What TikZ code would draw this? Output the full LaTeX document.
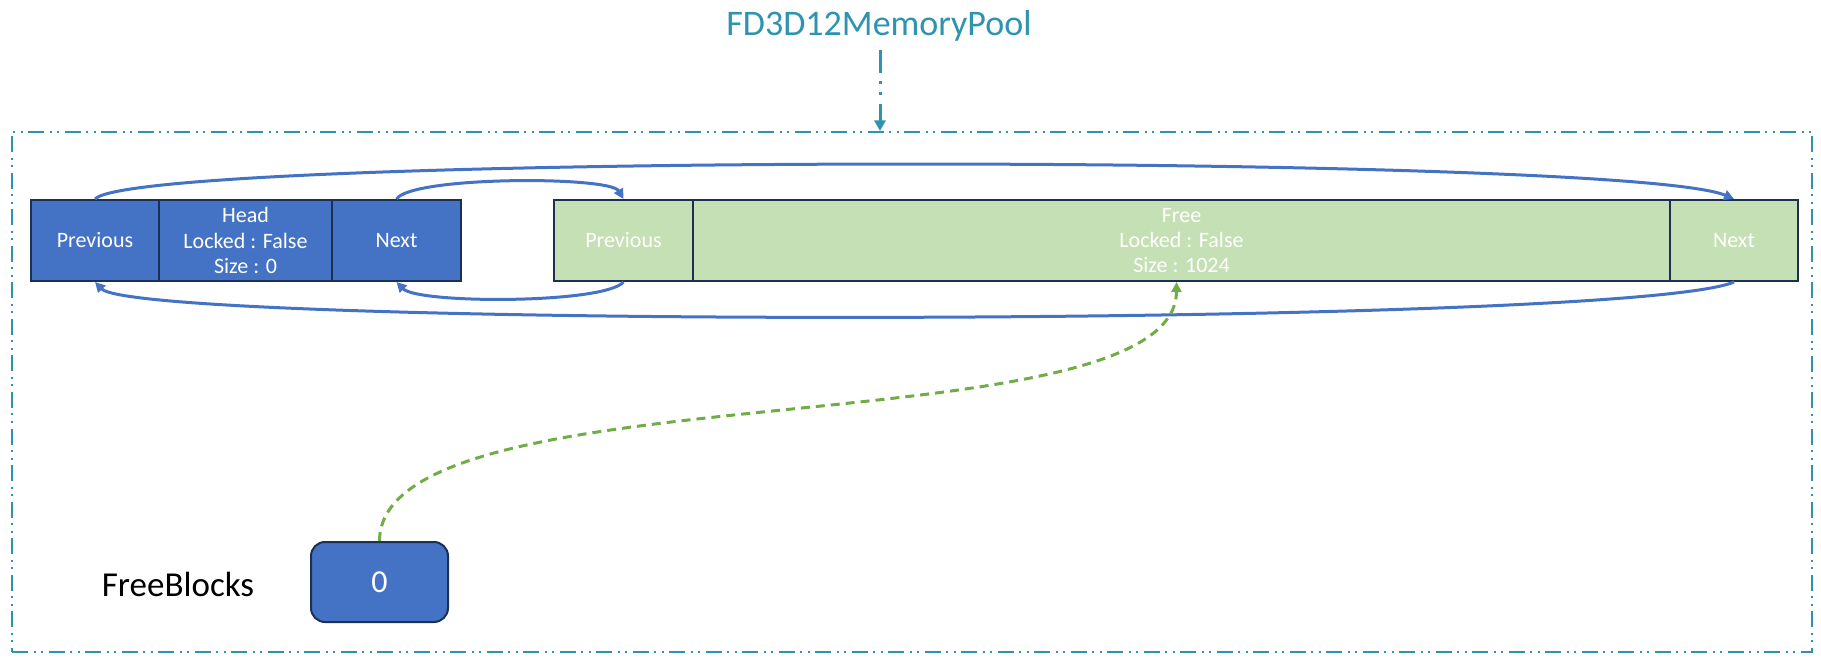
\documentclass[tikz,border=0pt]{standalone}
\usepackage{fontspec}
\setmainfont{Carlito}
\usetikzlibrary{arrows.meta}
\definecolor{cellblue}{HTML}{4472C4}
\definecolor{cellgreen}{HTML}{C5E0B4}
\definecolor{navy}{HTML}{1C2F55}
\definecolor{poolteal}{HTML}{2E93AF}
\definecolor{freegreen}{HTML}{70AD47}
\begin{document}
\begin{tikzpicture}[x=0.5pt, y=-0.5pt,
  cell/.style={draw=navy, line width=1pt, minimum height=40.5pt, inner sep=0pt, text=white, align=center, font=\fontsize{11}{12.7}\selectfont},
  link/.style={draw=cellblue, line width=1.5pt, -{Triangle[length=5pt,width=5pt]}},
  freelink/.style={draw=freegreen, line width=1.5pt, dash pattern=on 4.5pt off 3pt, -{Triangle[length=5pt,width=5pt]}},
  poolarrow/.style={draw=poolteal, line width=1.5pt, dash pattern=on 11.5pt off 4pt on 1.5pt off 4pt on 1.5pt off 4.5pt, -{Triangle[length=5.3pt,width=5.5pt]}}]
\useasboundingbox (0,0) rectangle (1821,663);
\node[anchor=base, text=poolteal, font=\fontsize{18}{20}\selectfont] (pool) at (879,36) {FD3D12MemoryPool};
\coordinate (ptop) at (880,50);
\node[draw=poolteal, line width=1pt, inner sep=0pt, minimum width=900pt, minimum height=260pt, dash pattern=on 8pt off 2.75pt on 1pt off 2.75pt on 1pt off 2.75pt] (frame) at (912,392) {};
\draw[poolarrow] (ptop) -- (ptop |- frame.north);
% head block
\node[cell, fill=cellblue, minimum width=64pt] (hprev) at (95,240.5) {Previous};
\node[cell, fill=cellblue, minimum width=86.5pt] (hmid) at (245.5,240.5) {Head\\Locked : False\\Size : 0};
\node[cell, fill=cellblue, minimum width=64.5pt] (hnext) at (396.5,240.5) {Next};
% free block
\node[cell, fill=cellgreen, minimum width=69.5pt] (fprev) at (623.5,240.5) {Previous};
\node[cell, fill=cellgreen, minimum width=488.5pt] (fmid) at (1181.5,240.5) {Free\\Locked : False\\Size : 1024};
\node[cell, fill=cellgreen, minimum width=64pt] (fnext) at (1734,240.5) {Next};
\draw[link] (hprev.north) .. controls (139,153) and (1626,153) .. (fnext.north);
\draw[link] (hnext.north) .. controls (412,176) and (610,176) .. (fprev.north);
\draw[link] (fprev.south) .. controls (604,304) and (418,304) .. (hnext.south);
\draw[link] (fnext.south) .. controls (1626,328) and (139,328) .. (hprev.south);
% free list
\node[anchor=base, font=\fontsize{17.5}{20}\selectfont] (fblabel) at (178,596) {FreeBlocks};
\node[draw=navy, line width=1pt, fill=cellblue, rounded corners=7pt, inner sep=0pt, minimum width=68.5pt, minimum height=40pt, text=white, font=\fontsize{16}{18}\selectfont] (fb0) at (379.5,582) {0};
\draw[freelink] (fb0.north) .. controls (380,365) and (1176,452) .. ([xshift=-2.5pt]fmid.south);
\end{tikzpicture}
\end{document}
